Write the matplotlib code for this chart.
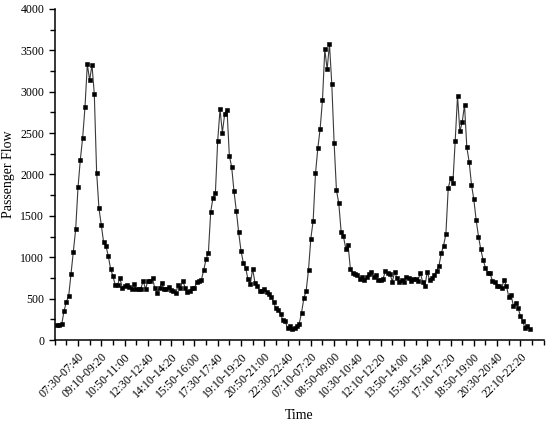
import matplotlib
matplotlib.use("Agg")
import matplotlib.pyplot as plt
from matplotlib.ticker import MultipleLocator, FixedLocator

# Passenger flow per 10-minute interval, two service days (06:00-23:00 each)
flow_day1 = [181, 181, 190, 351, 464, 532, 798, 1069, 1339, 1843,
             2181, 2444, 2815, 3331, 3137, 3325, 2968, 2024, 1590, 1390,
             1180, 1137, 1016, 859, 774, 663, 671, 746, 633, 653,
             661, 647, 613, 677, 613, 613, 621, 718, 613, 718,
             710, 746, 625, 573, 629, 690, 613, 621, 637, 605,
             597, 573, 663, 630, 715, 635, 580, 598, 628, 630,
             697, 717, 730, 846, 978, 1056, 1551, 1722, 1774, 2410,
             2788, 2504, 2733, 2782, 2226, 2090, 1795, 1560, 1301, 1080,
             934, 874, 733, 673, 862, 693, 657, 596, 592, 612,
             576, 556, 520, 455, 383, 365, 310, 242, 230, 141,
             172, 130]
flow_day2 = [145, 165, 197, 330, 505, 598, 850, 1226, 1444, 2014,
             2316, 2554, 2902, 3510, 3268, 3577, 3089, 2380, 1808, 1654,
             1311, 1252, 1105, 1148, 855, 810, 795, 790, 740, 760,
             720, 765, 800, 820, 760, 790, 725, 720, 740, 830,
             810, 800, 705, 826, 750, 705, 730, 700, 757, 745,
             715, 733, 740, 713, 814, 705, 653, 826, 725, 753,
             786, 838, 894, 1047, 1140, 1281, 1832, 1953, 1895, 2407,
             2949, 2520, 2629, 2840, 2326, 2153, 1876, 1699, 1450, 1251,
             1095, 967, 875, 806, 806, 713, 701, 653, 653, 633,
             725, 653, 524, 544, 411, 451, 391, 290, 229, 141,
             169, 129]

tick_labels = ["07:30-07:40", "09:10-09:20", "10:50-11:00", "12:30-12:40",
               "14:10-14:20", "15:50-16:00", "17:30-17:40", "19:10-19:20",
               "20:50-21:00", "22:30-22:40", "07:10-07:20", "08:50-09:00",
               "10:30-10:40", "12:10-12:20", "13:50-14:00", "15:30-15:40",
               "17:10-17:20", "18:50-19:00", "20:30-20:40", "22:10-22:20"]

flow = flow_day1 + flow_day2
x = list(range(1, len(flow) + 1))

plt.rcParams['font.family'] = ['Liberation Serif', 'DejaVu Serif']

fig = plt.figure(figsize=(5.5, 4.23), dpi=100)
ax = fig.add_axes([0.0995, 0.196, 0.889, 0.783])

ax.plot(x, flow, color='#3a3a3a', linewidth=0.8, marker='s',
        markersize=3.2, markerfacecolor='black', markeredgecolor='black',
        markeredgewidth=0.4)

ax.set_xlim(0, 210)
ax.set_ylim(0, 4000)

label_pos = list(range(10, 10 * len(tick_labels) + 1, 10))
ax.xaxis.set_major_locator(FixedLocator(label_pos))
ax.set_xticklabels(tick_labels, rotation=45, ha='right',
                   rotation_mode='anchor', fontsize=8.5)
ax.xaxis.set_minor_locator(MultipleLocator(5))

ax.yaxis.set_major_locator(MultipleLocator(500))
ax.yaxis.set_minor_locator(MultipleLocator(250))
ax.tick_params(axis='y', labelsize=8.5)

ax.tick_params(which='major', direction='out', length=4, width=1)
ax.tick_params(which='minor', direction='out', length=3.5, width=1)

ax.spines['top'].set_visible(False)
ax.spines['right'].set_visible(False)
for s in ('left', 'bottom'):
    ax.spines[s].set_linewidth(1.1)

ax.set_xlabel('Time', fontsize=10, labelpad=6)
ax.set_ylabel('Passenger Flow', fontsize=10, labelpad=4)

fig.savefig('out.png', dpi=100)
